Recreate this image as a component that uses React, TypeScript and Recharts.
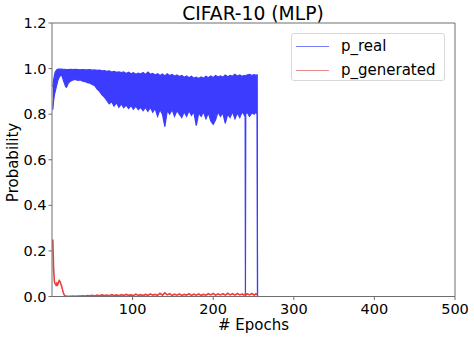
import React from 'react';
import { ComposedChart, Area, Line, XAxis, YAxis, ReferenceLine, Legend } from 'recharts';

const epochs = [
  1, 2, 3, 4, 5, 6, 7, 8, 9, 10, 11, 12, 13, 14, 15, 16, 17, 18, 19, 20,
  23, 26, 29, 32, 35, 38, 41, 44, 47, 50, 53, 56, 59, 62, 65, 68, 71, 74, 77, 80,
  83, 86, 89, 92, 95, 98, 101, 104, 107, 110, 113, 116, 119, 122, 125, 128, 131, 134, 137, 140,
  143, 146, 149, 152, 155, 158, 161, 164, 167, 170, 173, 176, 179, 182, 185, 188, 191, 194, 197, 200,
  203, 206, 209, 212, 215, 218, 221, 224, 227, 230, 233, 236,
  238, 239.6, 240, 240.4, 242, 245, 248, 251, 253, 254.6, 255,
];

const realHigh = [
  0.92, 0.95, 0.97, 0.985, 0.99, 0.995, 0.997, 0.998, 0.998, 0.998, 0.998, 0.998, 0.997, 0.997, 0.997, 0.997, 0.996, 0.996, 0.996, 0.996,
  0.997, 0.996, 0.997, 0.996, 0.995, 0.996, 0.995, 0.994, 0.995, 0.993,
  0.994, 0.992, 0.993, 0.99, 0.991, 0.988, 0.99, 0.985, 0.988, 0.984,
  0.986, 0.982, 0.985, 0.978, 0.984, 0.977, 0.982, 0.975, 0.98, 0.976,
  0.983, 0.974, 0.985, 0.975, 0.979, 0.972, 0.978, 0.97, 0.976, 0.968,
  0.977, 0.969, 0.974, 0.966, 0.972, 0.965, 0.97, 0.962, 0.968, 0.96,
  0.966, 0.958, 0.962, 0.956, 0.963, 0.958, 0.966, 0.96, 0.968, 0.961,
  0.97, 0.963, 0.968, 0.962, 0.972, 0.964, 0.97, 0.966, 0.975, 0.967,
  0.972, 0.965,
  0.97, 0.968, 0.965, 0.97, 0.972, 0.975, 0.97, 0.973, 0.97, 0.972, 0,
];

const realLow = [
  0.82, 0.86, 0.885, 0.9, 0.915, 0.93, 0.945, 0.955, 0.962, 0.968, 0.972, 0.97, 0.962, 0.95, 0.94, 0.93, 0.92, 0.918, 0.925, 0.935,
  0.945, 0.95, 0.952, 0.948, 0.95, 0.945, 0.943, 0.938, 0.936, 0.93,
  0.925, 0.91, 0.9, 0.885, 0.875, 0.86, 0.845, 0.855, 0.835, 0.85,
  0.83, 0.845, 0.828, 0.84, 0.825, 0.838, 0.822, 0.835, 0.82, 0.83,
  0.815, 0.83, 0.812, 0.83, 0.808, 0.825, 0.79, 0.82, 0.8, 0.745,
  0.815, 0.8, 0.82, 0.79, 0.815, 0.8, 0.785, 0.81, 0.79, 0.815,
  0.795, 0.81, 0.75, 0.805, 0.79, 0.81, 0.78, 0.805, 0.77, 0.755,
  0.775, 0.81, 0.79, 0.805, 0.76, 0.8, 0.785, 0.81, 0.78, 0.805,
  0.785, 0.81,
  0.8, 0.79, 0, 0.8, 0.81, 0.79, 0.805, 0.8, 0.81, 0.8, 0,
];

const generated = [
  0.25, 0.12, 0.065, 0.055, 0.05, 0.058, 0.052, 0.062, 0.07, 0.065, 0.055, 0.045, 0.03, 0.018, 0.008, 0.003, 0.002, 0.001, 0.001, 0.001,
  0.001, 0.002, 0.001, 0.002, 0.002, 0.003, 0.002, 0.004, 0.003, 0.005,
  0.002, 0.006, 0.003, 0.007, 0.004, 0.006, 0.003, 0.008, 0.004, 0.007,
  0.003, 0.008, 0.004, 0.009, 0.005, 0.007, 0.004, 0.01, 0.005, 0.008,
  0.004, 0.009, 0.005, 0.011, 0.006, 0.009, 0.005, 0.014, 0.006, 0.016,
  0.007, 0.012, 0.005, 0.01, 0.006, 0.011, 0.005, 0.009, 0.006, 0.012,
  0.005, 0.01, 0.006, 0.011, 0.005, 0.009, 0.006, 0.012, 0.007, 0.013,
  0.006, 0.011, 0.007, 0.012, 0.006, 0.014, 0.007, 0.012, 0.006, 0.013,
  0.007, 0.011,
  0.006, 0.01, 0.012, 0.006, 0.012, 0.007, 0.013, 0.006, 0.012, 0.008, 0.006,
];

const xTicks = [100, 200, 300, 400, 500];
const yTicks = [0, 0.2, 0.4, 0.6, 0.8, 1.0, 1.2];
const legendItems = [
  { name: 'p_real', color: '#7b7bff' },
  { name: 'p_generated', color: '#e88e8e' },
];

const data = epochs.map((e, i) => ({
  epoch: e,
  real: [realLow[i], realHigh[i]],
  gen: generated[i],
}));

const FONT = '"DejaVu Sans", sans-serif';
const BLUE = '#3c3cff';
const RED = '#f03c3c';
const FRAME = '#6e6e6e';

const LegendBox = () => (
  <div
    style={{
      width: 154,
      height: 48,
      border: '1px solid #d8d8d8',
      borderRadius: 3,
      background: 'rgba(255,255,255,0.8)',
      fontFamily: FONT,
      fontSize: 15,
      boxSizing: 'border-box',
      position: 'relative',
    }}
  >
    {legendItems.map((it, i) => (
      <div key={it.name} style={{ position: 'absolute', left: 4, top: 3 + i * 24, height: 18, display: 'flex', alignItems: 'center' }}>
        <div style={{ width: 33, height: 0, borderTop: `1.5px solid ${it.color}` }} />
        <span style={{ marginLeft: 12, color: '#000', lineHeight: '18px' }}>{it.name}</span>
      </div>
    ))}
  </div>
);

export default function App() {
  return (
    <div style={{ position: 'absolute', left: 0, top: 0, width: 474, height: 338, background: '#fff' }}>
      <ComposedChart
        width={474}
        height={338}
        data={data}
        margin={{ top: 23, right: 19, bottom: 0, left: 0 }}
        style={{ fontFamily: FONT }}
      >
        <XAxis
          dataKey="epoch"
          type="number"
          domain={[0, 500]}
          ticks={xTicks}
          allowDataOverflow
          height={41.5}
          tickSize={3.5}
          tickMargin={3.5}
          stroke={FRAME}
          tick={{ fill: '#000', fontSize: 14.5, fontFamily: FONT }}
        />
        <YAxis
          type="number"
          domain={[0, 1.2]}
          ticks={yTicks}
          allowDataOverflow
          width={52}
          tickSize={3.5}
          tickMargin={2}
          stroke={FRAME}
          tickFormatter={(v: number) => v.toFixed(1)}
          tick={{ fill: '#000', fontSize: 14.5, fontFamily: FONT }}
        />
        <ReferenceLine y={1.2} stroke={FRAME} strokeWidth={1} />
        <ReferenceLine x={500} stroke={FRAME} strokeWidth={1} />
        <Area
          type="linear"
          dataKey={(d: any) => d.real}
          stroke={BLUE}
          strokeWidth={1.2}
          fill={BLUE}
          fillOpacity={1}
          isAnimationActive={false}
          dot={false}
          activeDot={false}
        />
        <Line
          type="linear"
          dataKey="gen"
          stroke={RED}
          strokeWidth={1.6}
          dot={false}
          activeDot={false}
          isAnimationActive={false}
        />
        <Legend
          layout="vertical"
          align="center"
          verticalAlign="middle"
          content={() => <LegendBox />}
          wrapperStyle={{ left: 291, top: 33, width: 154, height: 48 }}
        />
      </ComposedChart>
      <svg
        width={474}
        height={338}
        style={{ position: 'absolute', left: 0, top: 0, pointerEvents: 'none' }}
      >
        <text x={253} y={19.5} textAnchor="middle" fontFamily={FONT} fontSize={18.7} fill="#000">
          CIFAR-10 (MLP)
        </text>
        <text x={253.5} y={330} textAnchor="middle" fontFamily={FONT} fontSize={15} fill="#000">
          # Epochs
        </text>
        <text
          x={0}
          y={0}
          transform="translate(17.5,162.5) rotate(-90)"
          textAnchor="middle"
          fontFamily={FONT}
          fontSize={15}
          fill="#000"
        >
          Probability
        </text>
      </svg>
    </div>
  );
}
